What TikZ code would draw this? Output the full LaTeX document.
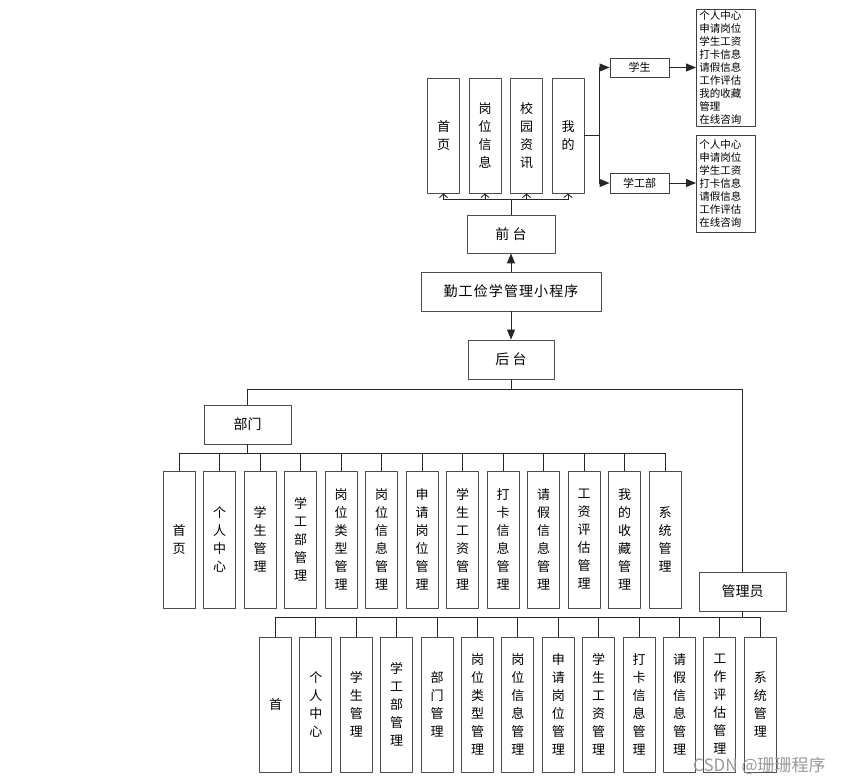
\documentclass[tikz,border=0pt]{standalone}
\usepackage{fontspec}
\setmainfont{Noto Sans CJK SC}
\usetikzlibrary{arrows.meta,positioning}
\tikzset{
  vbox/.style={draw=black!70, line width=0.9pt, minimum width=32pt, inner sep=0pt, align=center, font=\fontsize{13}{18}\selectfont},
  hbox/.style={draw=black!70, line width=0.9pt, inner sep=0pt, font=\fontsize{14}{16}\selectfont},
  sbox/.style={draw=black!75, line width=0.9pt, inner sep=0pt, minimum width=59pt, font=\fontsize{11}{13}\selectfont},
  listbox/.style={draw=black!75, line width=0.9pt, text width=53pt, inner xsep=3pt, inner ysep=0pt, align=left, anchor=north west, font=\fontsize{10.5}{13}\selectfont},
  ln/.style={black!85, line width=0.9pt},
}
\begin{document}
\begin{tikzpicture}[x=1pt,y=-1pt,>={Triangle[length=10pt,width=8pt]}, line join=round]
\useasboundingbox (0,0) rectangle (844,783);
\def\pitch{40.5}
% front part
\node[hbox, minimum width=180pt, minimum height=39pt] (main) at (511,291.5) {\addfontfeature{LetterSpace=8}勤工俭学管理小程序};
\node[hbox, minimum width=88pt, minimum height=38pt] (qt) at (511,234) {前 台};
\node[hbox, minimum width=86pt, minimum height=39pt] (ht) at (511,359.5) {后 台};
\draw[ln,->] (main.north) -- (qt.south);
\draw[ln,->] (main.south) -- (ht.north);
\foreach \t [count=\i] in {{首\\页},{岗\\位\\信\\息},{校\\园\\资\\讯},{我\\的}}
  \node[vbox, minimum height=115pt] (f\i) at ({402+41.5*\i},135.5) {\t};
\draw[ln] (qt.north) -- ++(0,-15) coordinate (fb);
\draw[ln] (f1.south |- fb) -- (f4.south |- fb);
\foreach \i in {1,...,4}
  \draw[ln,-{Straight Barb[length=3.5pt,width=8pt]}] (f\i.south |- fb) -- (f\i.south);
\node[sbox, minimum height=19pt] (xs) at (639.5,67.5) {学生};
\node[sbox, minimum height=20pt] (xgb) at (639.5,183) {学工部};
\node[listbox, minimum height=117pt] (l1) at (696,9) {个人中心\\申请岗位\\学生工资\\打卡信息\\请假信息\\工作评估\\我的收藏\\管理\\在线咨询};
\node[listbox, minimum height=97pt] (l2) at (696,135) {个人中心\\申请岗位\\学生工资\\打卡信息\\请假信息\\工作评估\\在线咨询};
\draw[ln] (f4.east) -- ++(15,0) coordinate (wd);
\draw[ln,->] (wd) |- (xs.west);
\draw[ln,->] (wd) |- (xgb.west);
\draw[ln,->] (xs.east) -- (xs.east -| l1.west);
\draw[ln,->] (xgb.east) -- (xgb.east -| l2.west);
% back part
\node[hbox, minimum width=87pt, minimum height=39pt] (bm) at (247.5,424.5) {部门};
\node[hbox, minimum width=87pt, minimum height=39pt] (gly) at (742.5,591.5) {管理员};
\draw[ln] (ht.south) -- ++(0,10) coordinate (hb);
\draw[ln] (bm.north) |- (gly.north |- hb) -- (gly.north);
\foreach \t [count=\i] in {{首\\页},{个\\人\\中\\心},{学\\生\\管\\理},{学\\工\\部\\管\\理},{岗\\位\\类\\型\\管\\理},{岗\\位\\信\\息\\管\\理},{申\\请\\岗\\位\\管\\理},{学\\生\\工\\资\\管\\理},{打\\卡\\信\\息\\管\\理},{请\\假\\信\\息\\管\\理},{工\\资\\评\\估\\管\\理},{我\\的\\收\\藏\\管\\理},{系\\统\\管\\理}}
  \node[vbox, minimum height=137pt] (d\i) at ({179+\pitch*(\i-1)},539.5) {\t};
\draw[ln] (bm.south) -- ++(0,9) coordinate (bb);
\draw[ln] (d1.north |- bb) -- (d13.north |- bb);
\foreach \i in {1,...,13}
  \draw[ln] (d\i.north |- bb) -- (d\i.north);
\foreach \t [count=\i] in {{首},{个\\人\\中\\心},{学\\生\\管\\理},{学\\工\\部\\管\\理},{部\\门\\管\\理},{岗\\位\\类\\型\\管\\理},{岗\\位\\信\\息\\管\\理},{申\\请\\岗\\位\\管\\理},{学\\生\\工\\资\\管\\理},{打\\卡\\信\\息\\管\\理},{请\\假\\信\\息\\管\\理},{工\\作\\评\\估\\管\\理},{系\\统\\管\\理}}
  \node[vbox, minimum height=135pt] (a\i) at ({275.5+40.4*(\i-1)},704.5) {\t};
\draw[ln] (gly.south) -- ++(0,6) coordinate (gb);
\draw[ln] (a1.north |- gb) -- (a13.north |- gb);
\foreach \i in {1,...,13}
  \draw[ln] (a\i.north |- gb) -- (a\i.north);
\node[text=black!40, anchor=west, inner sep=0pt, font=\fontsize{17}{17}\selectfont] (wm) at (693,766) {CSDN @珊珊程序};
\end{tikzpicture}
\end{document}
